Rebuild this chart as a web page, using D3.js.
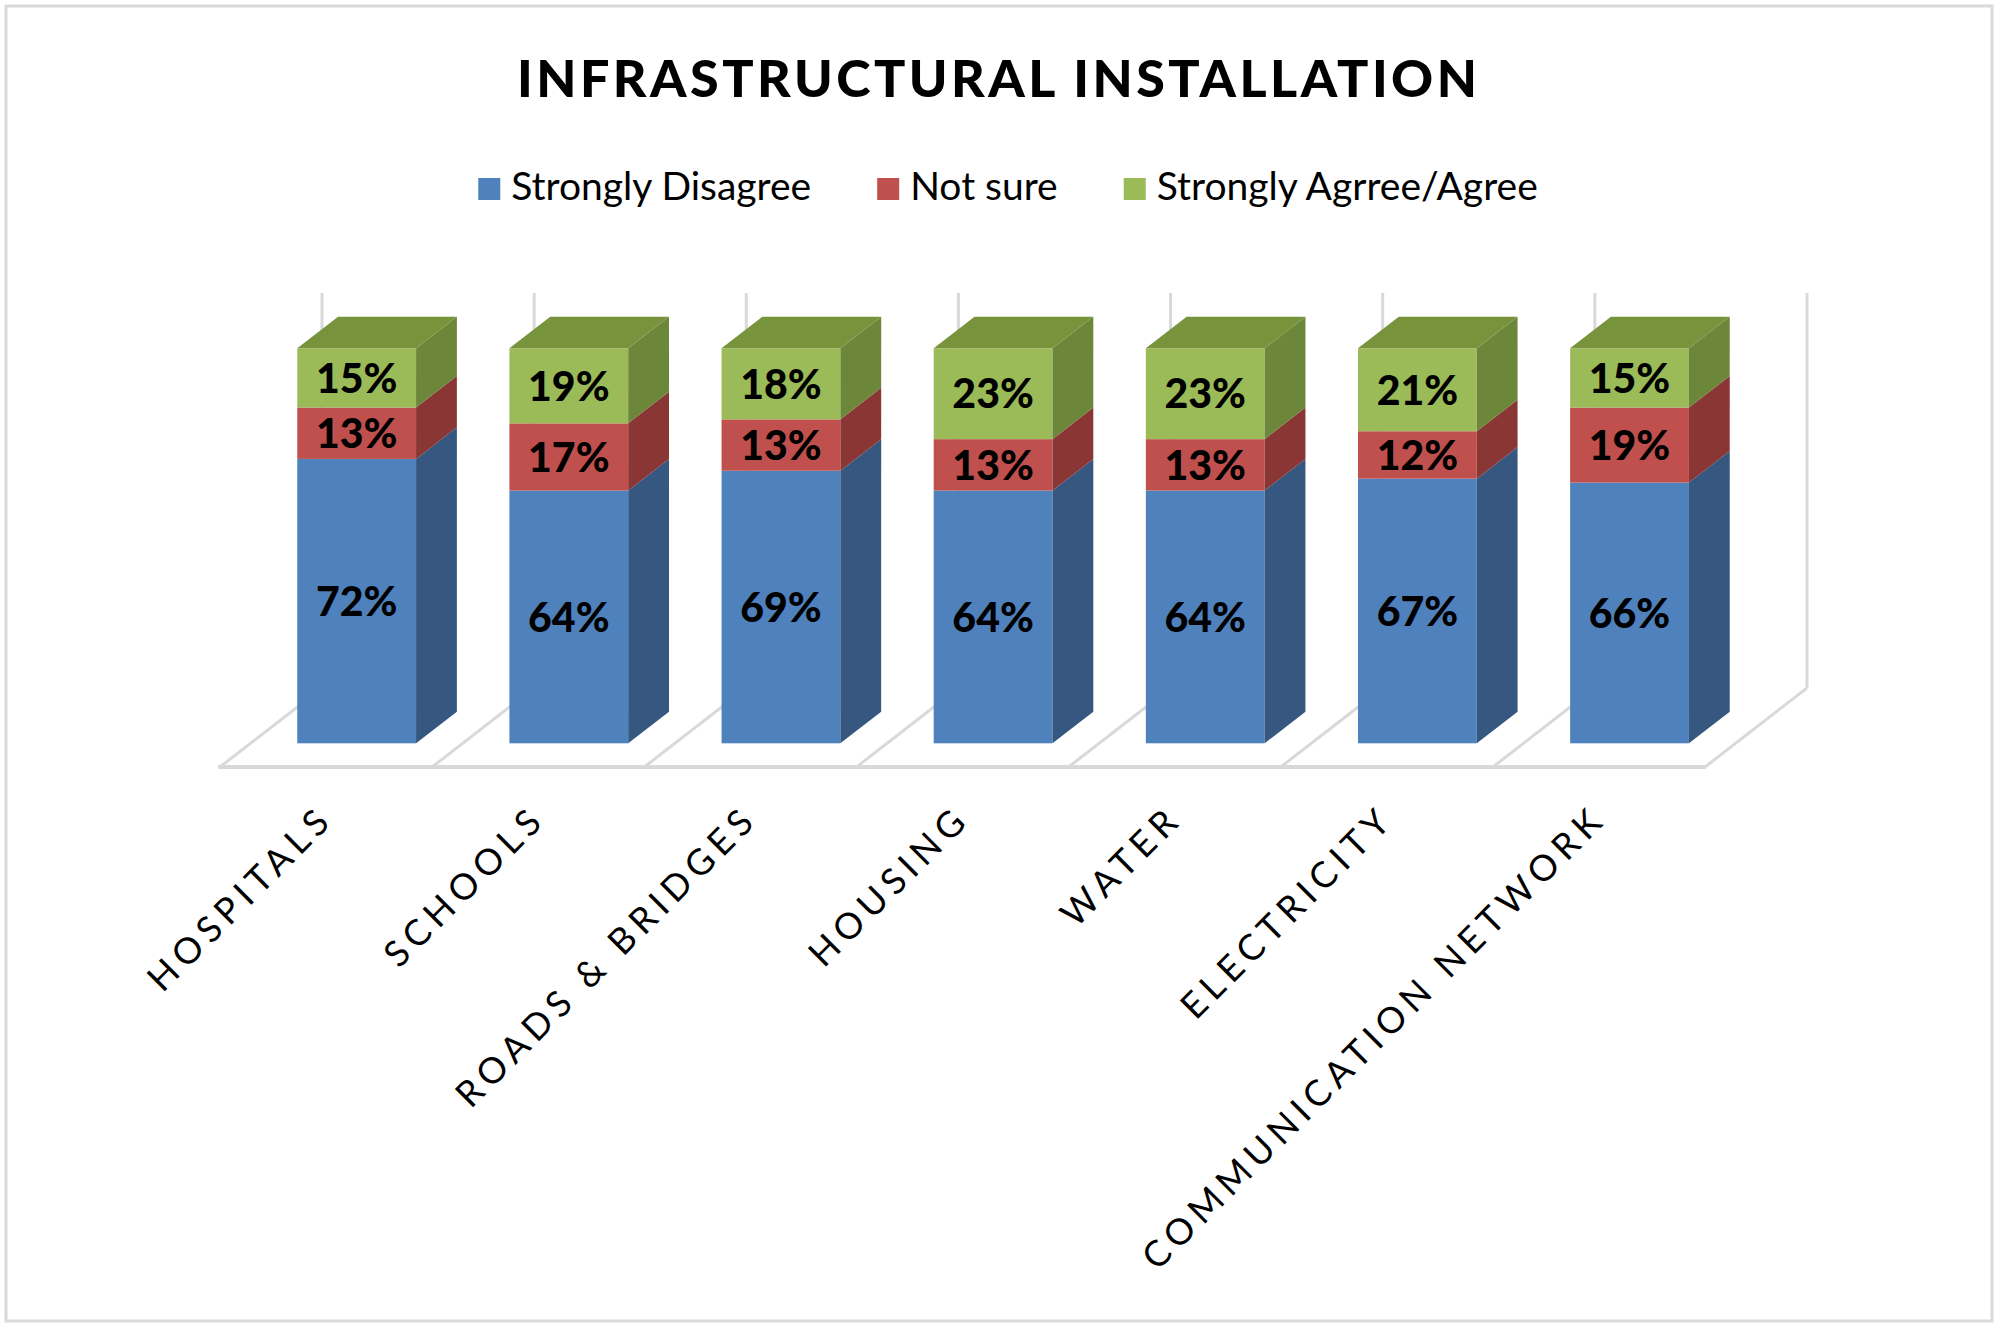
<!DOCTYPE html>
<html>
<head>
<meta charset="utf-8">
<script src="https://cdn.jsdelivr.net/npm/d3@7"></script>
<style>
body { margin:0; background:#fff; }
text { font-family: Lato, "Open Sans", sans-serif; }
</style>
</head>
<body>
<svg id="chart" width="2000" height="1330"></svg>
<script>
const categories = ["HOSPITALS", "SCHOOLS", "ROADS & BRIDGES", "HOUSING", "WATER", "ELECTRICITY", "COMMUNICATION NETWORK"]
const seriesNames = ["Strongly Disagree", "Not sure", "Strongly Agrree/Agree"]
const disagree = [72, 64, 69, 64, 64, 67, 66]
const notSure = [13, 17, 13, 13, 13, 12, 19]
const agree = [15, 19, 18, 23, 23, 21, 15]

// front, side and top shades for each series
const frontColors = ["#4F81BD", "#C0504D", "#9BBB59"]
const sideColors = ["#36577F", "#8A3634", "#6C873A"]
const topColors = ["#42699A", "#9E403D", "#77933C"]

const svg = d3.select("#chart")

// chart border
svg.append("rect")
  .attr("x", 6).attr("y", 6).attr("width", 1986).attr("height", 1315)
  .attr("fill", "#fff").attr("stroke", "#D9D9D9").attr("stroke-width", 3)

svg.append("text")
  .attr("x", 517).attr("y", 97)
  .attr("textLength", 960).attr("lengthAdjust", "spacing")
  .style("font-size", "52px").style("font-weight", "900")
  .attr("fill", "#000")
  .text("INFRASTRUCTURAL INSTALLATION")

// legend, laid out from measured text widths
const legend = svg.append("g")
const items = legend.selectAll("g").data(seriesNames).join("g")
items.append("rect").attr("width", 22).attr("height", 22).attr("y", 178)
  .attr("fill", (d, i) => frontColors[i])
items.append("text").attr("x", 33).attr("y", 200)
  .style("font-size", "39px").attr("fill", "#000").text(d => d)
let lx = 0
const offsets = []
items.each(function() {
  offsets.push(lx)
  lx += 33 + d3.select(this).select("text").node().getComputedTextLength() + 66
})
lx -= 66
items.attr("transform", (d, i) => `translate(${1008 - lx / 2 + offsets[i]},0)`)

// scales: x along the front floor edge, y in the front floor plane
const x = d3.scaleBand().domain(categories).range([220, 1705]).paddingInner(0.44).paddingOuter(0.22)
const y = d3.scaleLinear().domain([0, 100]).range([767, 372])
const depth = [102, -79] // floor depth vector
const barFront = 0.3, barBack = 0.7
const step = x.step()
const edges = d3.range(categories.length + 1).map(k => x.range()[0] + k * step)

const grid = svg.append("g").attr("stroke", "#D9D9D9").attr("fill", "none")
// back wall verticals
grid.selectAll("line.wall").data(edges).join("line").attr("class", "wall")
  .attr("x1", e => e + depth[0]).attr("x2", e => e + depth[0])
  .attr("y1", y(0) + depth[1]).attr("y2", y(100) + depth[1])
  .attr("stroke-width", 3)
// floor
grid.selectAll("line.floor").data(edges).join("line").attr("class", "floor")
  .attr("x1", e => e).attr("y1", y(0))
  .attr("x2", e => e + depth[0]).attr("y2", y(0) + depth[1])
  .attr("stroke-width", 3)
grid.append("line")
  .attr("x1", edges[0] - 2).attr("x2", edges[edges.length - 1] + 1)
  .attr("y1", y(0)).attr("y2", y(0))
  .attr("stroke-width", 4)

const rows = categories.map((c, i) => ({cat: c, disagree: disagree[i], notSure: notSure[i], agree: agree[i]}))
const stacked = d3.stack().keys(["disagree", "notSure", "agree"])(rows)

const ox = depth[0] * barFront, oy = depth[1] * barFront
const bx = depth[0] * (barBack - barFront), by = depth[1] * (barBack - barFront)
const bw = x.bandwidth()

const bars = svg.append("g")
stacked.forEach((layer, si) => {
  const g = bars.append("g")
  layer.forEach(d => {
    const x0 = x(d.data.cat) + ox, x1 = x0 + bw
    const yt = y(d[1]) + oy, yb = y(d[0]) + oy
    g.append("rect").attr("x", x0).attr("y", yt).attr("width", bw).attr("height", yb - yt)
      .attr("fill", frontColors[si])
    g.append("polygon")
      .attr("points", [[x1, yb], [x1, yt], [x1 + bx, yt + by], [x1 + bx, yb + by]].join(" "))
      .attr("fill", sideColors[si])
    if (si === stacked.length - 1) {
      g.append("polygon")
        .attr("points", [[x0, yt], [x1, yt], [x1 + bx, yt + by], [x0 + bx, yt + by]].join(" "))
        .attr("fill", topColors[si])
    }
    g.append("text")
      .attr("x", x0 + bw / 2).attr("y", (yt + yb) / 2).attr("dy", "0.36em")
      .attr("text-anchor", "middle")
      .style("font-size", "41px").style("font-weight", "900").attr("fill", "#000")
      .text(d[1] - d[0] + "%")
  })
})

// rotated category labels
const ls = 6.2
svg.append("g").selectAll("text").data(categories).join("text")
  .attr("transform", c => `translate(${x(c) + bw / 2 + 5},825) rotate(-45)`)
  .attr("x", ls)
  .attr("text-anchor", "end")
  .style("font-size", "36px").style("letter-spacing", ls + "px")
  .attr("fill", "#000")
  .text(c => c)
</script>
</body>
</html>
